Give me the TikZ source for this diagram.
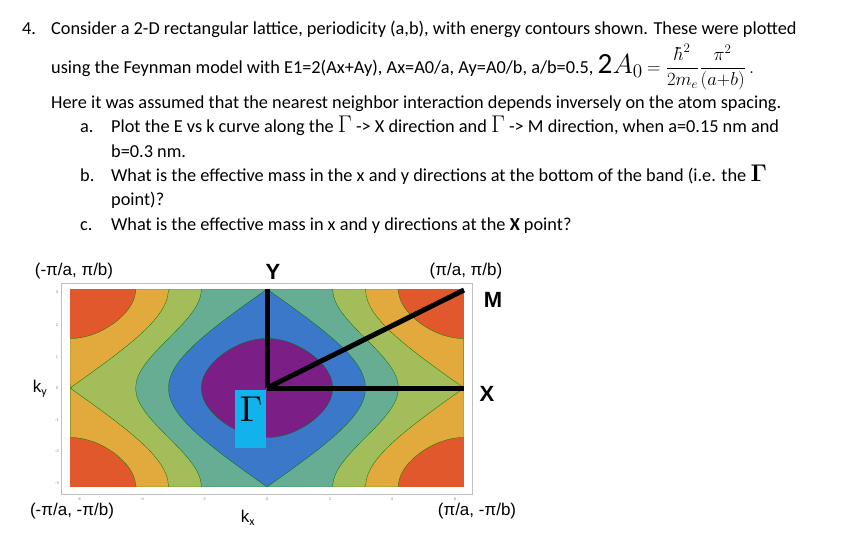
\documentclass[tikz,border=0pt]{standalone}
\usepackage{amsmath}
\usepackage{graphicx}
\usepackage{fontspec}
\setmainfont{Carlito}
\newfontfamily\plotfont{Liberation Sans}
\definecolor{cred}{HTML}{E0582B}
\definecolor{cyel}{HTML}{E2A93C}
\definecolor{cgrn}{HTML}{A3BD5A}
\definecolor{cteal}{HTML}{67AD93}
\definecolor{cblue}{HTML}{3C78C9}
\definecolor{cpur}{HTML}{7B1F87}
\definecolor{ccyan}{HTML}{12B2EC}
\tikzset{
  txt/.style={anchor=base west,inner sep=0pt,font=\fontsize{18.3}{21}\selectfont},
  plab/.style={inner sep=0pt,font=\plotfont\fontsize{17}{20}\selectfont},
  big/.style={inner sep=0pt,font=\plotfont\bfseries\fontsize{22}{24}\selectfont},
  tick/.style={inner sep=0pt,font=\plotfont\fontsize{4}{5}\selectfont,text=gray},
  path/.style={line width=5pt},
  cline/.style={draw=black!55!green,line width=0.3pt}
}
\begin{document}
\begin{tikzpicture}[x=1pt,y=-1pt]
\useasboundingbox[fill=white] (0,0) rectangle (844,539);
% text
\node[txt] at (22,34) {4.};
\node[txt] (l1) at (51,34) {Consider a 2-D rectangular lattice, periodicity (a,b), with energy contours shown. These were plotted};
\node[txt] (l2) at (51,73) {using the Feynman model with E1=2(Ax+Ay), Ax=A0/a, Ay=A0/b, a/b=0.5, \scalebox{1.6}{$\mathrm{2}A_0$}\ \scalebox{1.08}{$=\dfrac{\hbar^2}{2m_e}\dfrac{\pi^2}{(a{+}b)}\,.$}};
\node[txt] (l3) at (51,108) {Here it was assumed that the nearest neighbor interaction depends inversely on the atom spacing.};
\node[txt] at (80,132) {a.};
\node[txt] (la) at (111,132) {Plot the E vs k curve along the \scalebox{1.4}{$\Gamma$} -> X direction and \scalebox{1.4}{$\Gamma$} -> M direction, when a=0.15 nm and};
\node[txt] (la2) at (111,157) {b=0.3 nm.};
\node[txt] at (80,181) {b.};
\node[txt] (lb) at (111,181) {What is the effective mass in the x and y directions at the bottom of the band (i.e. the \scalebox{1.4}{\boldmath$\Gamma$}};
\node[txt] (lb2) at (111,205) {point)?};
\node[txt] at (80,230) {c.};
\node[txt] (lc) at (111,230) {What is the effective mass in x and y directions at the \textbf{X} point?};
% frame
\draw[gray!50,line width=0.5pt] (61,283) rectangle (472,494);
% contour plot
\begin{scope}[shift={(267,388)},x=31.35pt,y=31.5pt]
  \clip (-6.2832,-3.1416) rectangle (6.2832,3.1416);
  \fill[cred] (-6.2832,-3.1416) rectangle (6.2832,3.1416);
  \foreach \c/\col/\d in {2/cyel/6.2832,1/cgrn/6.2832,0/cteal/4.18879,-1/cblue/3.14159,-2/cpur/2.0944}{
    \filldraw[fill=\col,cline] plot[domain=-\d:\d,samples=401,smooth]
      (\x,{acos(max(-1,min(1,-\c-2*cos(\x/2 r))))*pi/180})
      -- plot[domain=\d:-\d,samples=401,smooth]
      (\x,{-acos(max(-1,min(1,-\c-2*cos(\x/2 r))))*pi/180}) -- cycle;
  }
\end{scope}
% ticks
\foreach \v/\xx in {-6/79,-4/142,-2/204,0/267,2/330,4/392,6/455}{
  \node[tick] at (\xx,499) {\v};}
\foreach \v/\yy in {3/292,2/325,1/357,0/388,-1/420,-2/451,-3/483}{
  \node[tick] at (57,\yy) {\v};}
% path lines
\coordinate (G) at (267,388);
\coordinate (Yp) at (267,289);
\coordinate (Xp) at (464,388);
\coordinate (Mp) at (464,290);
\draw[path] (G) -- (Yp);
\draw[path] (G) -- (Xp);
\draw[path] (G) -- (Mp);
\fill[ccyan] (235,390) rectangle (266,448);
\node[inner sep=0pt] (gam) at (251,409) {\scalebox{3.6}{$\Gamma$}};
% labels
\node[plab] (c1) at (74,271) {(-π/a, π/b)};
\node[big] (Y) at (273,272) {Y};
\node[plab] (c2) at (466,271) {(π/a, π/b)};
\node[big] (M) at (493,300) {M};
\node[big] (X) at (487,394) {X};
\node[plab] (ky) at (40,389) {k$_\mathrm{y}$};
\node[plab] (c3) at (72,511) {(-π/a, -π/b)};
\node[plab] (kx) at (248,518) {k$_\mathrm{x}$};
\node[plab] (c4) at (477,511) {(π/a, -π/b)};
\end{tikzpicture}
\end{document}
